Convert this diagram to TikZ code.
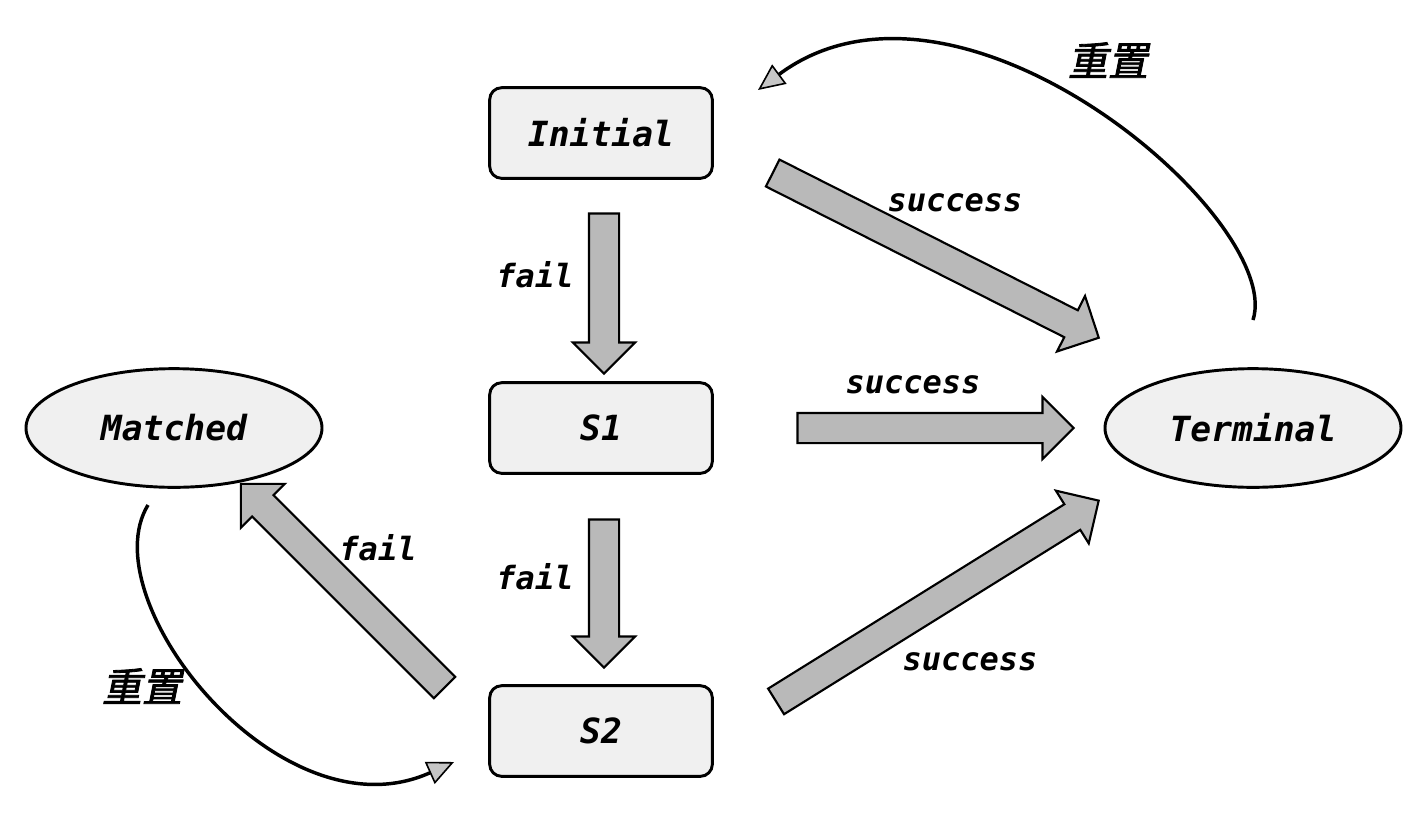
\documentclass[tikz,border=0pt]{standalone}
\usepackage{fontspec}
\setmainfont{DejaVu Sans Mono}
\newfontfamily\cjk{Noto Sans CJK SC}[FakeSlant=0.2,FakeBold=2]
\usetikzlibrary{shapes.geometric,shapes.arrows,arrows.meta}
\begin{document}
\begin{tikzpicture}[x=0.75pt,y=-0.75pt,
  box/.style={draw,line width=2.2pt,rounded corners=9pt,fill=gray!12,minimum width=167pt,minimum height=68pt,font=\bfseries\itshape\fontsize{26}{30}\selectfont},
  ell/.style={draw,ellipse,line width=2.2pt,fill=gray!12,minimum width=222pt,minimum height=89pt,font=\bfseries\itshape\fontsize{26}{30}\selectfont},
  big/.style={single arrow,draw,line width=1.6pt,fill=gray!55,minimum width=45pt,single arrow head extend=12pt,single arrow tip angle=90,inner xsep=0pt,inner ysep=10.5pt,text height=0pt,text depth=0pt,text width=0pt},
  lbl/.style={font=\bfseries\itshape\fontsize{24}{28}\selectfont},
  reset/.style={font=\cjk\fontsize{30}{32}\selectfont},
  curve/.style={line width=2.6pt,-{Triangle[length=20pt,width=18pt,fill=gray!45,line width=1.2pt]}}]
\useasboundingbox (0,0) rectangle (1414,822);
\node[box] (init) at (601,133) {Initial};
\node[box] (s1) at (601,428) {S1};
\node[box] (s2) at (601,731) {S2};
\node[ell] (match) at (174,428) {Matched};
\node[ell] (term) at (1253,428) {Terminal};
\node[big,rotate=-90,minimum height=120pt] (a1) at (604,286) {};
\node[big,rotate=-90,minimum height=111pt] (a2) at (604,586) {};
\node[big,minimum height=207pt] (a3) at (928,428) {};
\node[big,rotate=-26.8,minimum height=274pt] (a4) at (929,252) {};
\node[big,rotate=31.9,minimum height=285pt] (a5) at (931,605) {};
\node[big,rotate=135,minimum height=216pt] (a6) at (348,591) {};
\node[lbl] (l1) at (535,275) {fail};
\node[lbl] (l2) at (535,577) {fail};
\node[lbl] (l3) at (378,548) {fail};
\node[lbl] (l4) at (955,203) {success};
\node[lbl] (l5) at (913,385) {success};
\node[lbl] (l6) at (970,662) {success};
\node[reset] (r1) at (1108,60) {重置};
\node[reset] (r2) at (142,686) {重置};
\coordinate (c1s) at (1253,320);
\coordinate (c1e) at (758,90);
\coordinate (c2s) at (148,505);
\coordinate (c2e) at (454,762);
\draw[curve] (c1s) .. controls (1285,220) and (960,-60) .. (c1e);
\draw[curve] (c2s) .. controls (90,600) and (280,840) .. (c2e);
\end{tikzpicture}
\end{document}
